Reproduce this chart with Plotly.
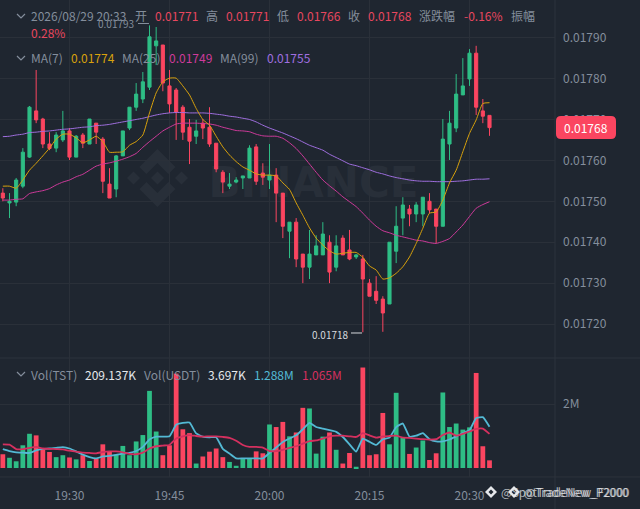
import numpy as np
import pandas as pd
import plotly.graph_objects as go

SCALE = 1e-5
start_time = "2026-08-29 19:20"
opens = [1752.0,1749.6,1749.8,1753.7,1760.8,1772.1,1770.1,1764.0,1763.0,1765.0,
         1767.2,1760.8,1766.2,1764.0,1769.1,1765.2,1754.2,1753.0,1761.1,1767.9,
         1773.0,1775.0,1777.9,1788.0,1788.2,1778.2,1777.2,1773.0,1768.1,1765.9,
         1769.1,1768.1,1764.2,1757.1,1753.7,1754.7,1755.7,1755.7,1763.3,1756.9,
         1755.2,1756.4,1752.0,1742.7,1744.9,1737.1,1733.9,1736.9,1736.9,1740.0,
         1733.9,1741.0,1738.1,1736.4,1735.9,1730.0,1728.0,1726.1,1724.9,1737.8,
         1745.9,1748.1,1746.9,1746.9,1750.0,1748.1,1743.9,1764.0,1767.9,1776.0,
         1779.9,1786.2,1772.1,1771.0]
highs = [1753.2,1752.0,1755.7,1763.0,1773.3,1782.1,1770.4,1766.9,1766.9,1772.1,
         1767.9,1766.2,1766.7,1770.1,1769.1,1765.7,1758.1,1761.3,1767.2,1773.0,
         1778.9,1781.6,1793.0,1792.6,1788.2,1782.1,1777.7,1773.5,1770.1,1769.9,
         1770.1,1773.0,1764.2,1757.6,1756.9,1755.9,1756.2,1763.7,1764.0,1759.3,
         1764.0,1758.1,1752.0,1744.9,1745.9,1737.1,1743.0,1741.7,1744.9,1741.7,
         1741.7,1741.7,1743.0,1737.1,1736.9,1731.0,1731.7,1726.8,1740.0,1748.8,
         1751.0,1749.1,1749.8,1751.0,1752.0,1748.1,1770.1,1772.1,1781.1,1785.0,
         1787.2,1788.0,1775.0,1771.0]
lows = [1750.0,1745.9,1748.8,1753.2,1760.6,1769.1,1763.0,1762.5,1762.0,1764.5,
        1760.1,1760.8,1763.0,1764.0,1764.0,1752.0,1750.8,1751.0,1761.1,1767.4,
        1772.1,1774.0,1777.2,1783.3,1776.9,1771.6,1765.0,1765.0,1759.1,1764.0,
        1765.2,1763.3,1757.1,1752.0,1753.0,1754.4,1753.0,1755.7,1754.0,1754.0,
        1753.0,1744.9,1741.0,1736.1,1733.9,1730.0,1731.0,1736.9,1736.9,1730.0,
        1732.9,1736.9,1735.6,1735.9,1718.0,1726.8,1724.9,1718.1,1724.9,1734.9,
        1741.7,1743.9,1744.9,1743.9,1747.1,1739.8,1743.9,1760.1,1766.9,1776.0,
        1778.2,1771.1,1769.1,1766.0]
closes = [1750.8,1750.0,1755.2,1762.0,1773.0,1769.9,1764.0,1762.9,1766.2,1767.2,
          1760.8,1765.9,1764.2,1770.1,1766.9,1754.9,1750.8,1761.1,1767.2,1773.0,
          1776.2,1779.2,1790.2,1789.2,1778.9,1773.8,1771.8,1766.9,1764.7,1767.2,
          1767.9,1764.0,1757.9,1754.7,1754.2,1755.2,1756.2,1763.0,1754.9,1755.9,
          1756.4,1752.0,1743.9,1744.9,1735.9,1733.9,1737.1,1739.1,1742.0,1732.7,
          1739.1,1736.9,1735.9,1736.9,1731.0,1726.8,1725.8,1722.7,1740.0,1743.9,
          1749.1,1746.9,1749.1,1751.0,1747.9,1743.9,1765.2,1769.1,1776.2,1778.2,
          1786.2,1773.0,1770.8,1768.0]
ma7 = [1753.7,1753.7,1753.2,1755.2,1757.6,1759.3,1761.1,1763.0,1765.2,1766.4,
       1766.4,1765.5,1764.3,1765.0,1765.9,1764.6,1762.0,1762.0,1762.1,1763.7,
       1764.6,1766.2,1771.6,1776.5,1779.2,1780.1,1780.1,1778.2,1776.0,1772.7,
       1770.0,1768.6,1765.9,1763.3,1761.3,1759.7,1758.4,1757.6,1756.7,1756.4,
       1756.4,1756.2,1754.5,1752.9,1749.6,1746.6,1743.5,1741.0,1739.3,1737.9,
       1737.1,1737.3,1737.5,1737.5,1736.3,1734.2,1733.2,1731.0,1731.3,1732.4,
       1734.0,1736.4,1739.7,1743.4,1747.1,1747.4,1750.3,1754.5,1757.6,1762.1,
       1766.6,1769.9,1773.9,1774.1]
ma25 = [1750.3,1750.3,1750.5,1750.6,1751.9,1752.3,1752.6,1753.1,1754.0,1754.7,
        1755.2,1756.0,1756.6,1757.6,1758.6,1759.1,1759.4,1759.8,1760.3,1760.9,
        1761.7,1763.2,1764.6,1765.9,1767.2,1768.1,1768.9,1769.1,1769.1,1769.1,
        1769.0,1768.9,1768.6,1768.1,1767.7,1767.3,1767.2,1767.0,1766.4,1766.0,
        1765.9,1765.9,1765.4,1764.3,1762.9,1761.1,1759.1,1757.1,1755.2,1753.8,
        1752.5,1751.1,1749.9,1748.7,1747.1,1745.4,1743.9,1742.8,1742.3,1741.7,
        1741.3,1740.9,1740.5,1740.3,1739.9,1739.7,1740.2,1740.9,1742.5,1744.2,
        1746.3,1748.3,1749.2,1749.9]
ma99 = [1765.8,1765.9,1766.2,1766.4,1766.8,1766.9,1767.1,1767.2,1767.4,1767.6,
        1767.7,1767.9,1768.1,1768.2,1768.5,1768.6,1768.8,1769.1,1769.4,1769.7,
        1770.0,1770.3,1770.7,1771.1,1771.4,1771.6,1771.7,1771.7,1771.6,1771.6,
        1771.6,1771.5,1771.3,1771.1,1770.8,1770.6,1770.3,1770.0,1769.4,1768.6,
        1767.9,1767.3,1766.7,1766.0,1765.3,1764.5,1763.7,1763.1,1762.5,1761.5,
        1760.7,1759.9,1759.1,1758.7,1758.2,1757.7,1757.1,1756.7,1756.2,1755.8,
        1755.5,1755.2,1755.0,1754.9,1754.9,1754.8,1754.8,1754.8,1754.9,1755.0,
        1755.2,1755.4,1755.4,1755.5]
volumes = [.43,.32,.21,.71,1.07,1.02,.60,.50,.34,.40,
           .33,.27,.40,.22,.29,.74,.53,.42,.69,.40,
           .83,1.03,2.41,1.14,.40,.71,2.95,1.21,1.09,.14,
           .36,.51,.61,.34,.19,.07,.29,.29,.52,.46,
           1.36,1.28,1.44,.99,1.11,1.88,1.86,.45,.98,1.11,
           .57,.14,.47,.04,3.14,.40,.43,1.72,.74,2.35,
           .95,.44,.64,.86,.25,.46,2.36,1.28,1.39,1.20,
           1.27,2.97,.68,.24]
vol_ma_blue = [.59,.53,.49,.48,.47,.55,.60,.61,.63,.65,
               .61,.52,.42,.34,.30,.36,.38,.41,.45,.47,
               .53,.66,.89,.98,.98,.99,1.35,1.41,1.42,1.08,
               .98,.96,.96,.60,.45,.30,.30,.30,.30,.30,
               .47,.64,.81,.92,1.02,1.21,1.41,1.28,1.23,1.18,
               1.13,.97,.74,.51,.92,.82,.72,.90,.95,1.28,
               1.39,.98,1.01,1.09,.90,.83,.83,.89,.99,1.09,
               1.18,1.56,1.59,1.29]
vol_ma_red = [.74,.73,.59,.59,.63,.66,.61,.60,.59,.58,
              .54,.51,.48,.47,.46,.50,.52,.52,.49,.44,
              .43,.48,.61,.68,.70,.72,.92,.99,1.03,1.00,
              .98,.99,.99,.97,.94,.85,.72,.66,.66,.64,
              .53,.53,.57,.63,.68,.76,.84,.86,.92,.99,
              1.01,1.01,.99,.97,1.09,1.02,.95,.99,1.00,1.01,
              .95,.94,.92,.90,.89,.90,1.03,1.11,1.01,1.07,
              1.14,1.22,1.23,1.065]
price_ticks = [0.0172,0.0173,0.0174,0.0175,0.0176,0.0177,0.0178,0.0179]
price_tick_labels = ["0.01720","0.01730","0.01740","0.01750","0.01760","0.01770","0.01780","0.01790"]
vol_ticks = [2]
vol_tick_labels = ["2M"]
time_ticks = ["2026-08-29 19:30","2026-08-29 19:45","2026-08-29 20:00","2026-08-29 20:15","2026-08-29 20:30"]
time_tick_labels = ["19:30","19:45","20:00","20:15","20:30"]

W, H = 640, 509
BG = "#1f2630"; GRID = "#2a3039"; SEP = "#2d333c"; GRAY = "#848e9c"
GREEN = "#2ebd85"; RED = "#fb4560"
FONT = "Noto Sans CJK SC"

times = pd.date_range(start_time, periods=len(opens), freq="min")
o, h, l, c = [np.array(a) * SCALE for a in (opens, highs, lows, closes)]
is_up = c >= o
bar_colors = [GREEN if u else RED for u in is_up]

def fx(x): return x / W
def fy(y): return 1 - y / H
def path(points, close=True):
    s = "M" + " L".join(f"{fx(x):.5f},{fy(y):.5f}" for x, y in points)
    return s + (" Z" if close else "")

fig = go.Figure()
fig.add_trace(go.Candlestick(x=times, open=o, high=h, low=l, close=c, xaxis="x", yaxis="y",
    increasing=dict(line=dict(color=GREEN, width=1), fillcolor=GREEN),
    decreasing=dict(line=dict(color=RED, width=1), fillcolor=RED),
    whiskerwidth=0, showlegend=False, hoverinfo="skip"))
for series, colr in ((ma99, "#a06fe0"), (ma25, "#cf3a9b"), (ma7, "#d9a20c")):
    fig.add_trace(go.Scatter(x=times, y=np.array(series) * SCALE, mode="lines", xaxis="x", yaxis="y",
        line=dict(color=colr, width=1, shape="spline", smoothing=0.5), hoverinfo="skip", showlegend=False))
fig.add_trace(go.Bar(x=times, y=volumes, xaxis="x2", yaxis="y2", marker=dict(color=bar_colors, line_width=0),
    width=43000, hoverinfo="skip", showlegend=False))
for series, colr in ((vol_ma_blue, "#53b9d4"), (vol_ma_red, "#d5305f")):
    fig.add_trace(go.Scatter(x=times, y=series, mode="lines", xaxis="x2", yaxis="y2",
        line=dict(color=colr, width=1.8, shape="spline", smoothing=0.4), hoverinfo="skip", showlegend=False))

shapes = []
def add_poly(points, fill):
    shapes.append(dict(type="path", xref="paper", yref="paper", path=path(points), fillcolor=fill,
                       line=dict(width=0), layer="below"))
def add_line(points, colr, width=1, layer="above"):
    shapes.append(dict(type="path", xref="paper", yref="paper", path=path(points, close=False),
                       line=dict(color=colr, width=width), layer=layer))

# Faint logo and word behind the candles
LOGO = "#282f39"
cx, cy = 157.5, 178
def diamond(x, y, r): return [(x, y - r), (x + r, y), (x, y + r), (x - r, y)]
for dx in (-24, 0, 24):
    add_poly(diamond(cx + dx, cy, 6.5), LOGO)
add_poly([(cx,cy-29),(cx+18,cy-11),(cx+11,cy-4),(cx,cy-15),(cx-11,cy-4),(cx-18,cy-11)], LOGO)
add_poly([(cx,cy+29),(cx+18,cy+11),(cx+11,cy+4),(cx,cy+15),(cx-11,cy+4),(cx-18,cy+11)], LOGO)
shapes.append(dict(type="rect", xref="paper", yref="paper", x0=fx(190), x1=fx(437), y0=fy(201), y1=fy(157),
    line=dict(width=0), fillcolor="rgba(0,0,0,0)", layer="below",
    label=dict(text="<b>BINANCE</b>", textposition="middle center",
               font=dict(family="DejaVu Sans", size=42, color=LOGO))))

# Pane separators and right-axis rule
add_line([(0, 358), (640, 358)], SEP, 1, "below")
add_line([(0, 477), (640, 477)], SEP, 1, "below")
add_line([(555, 0), (555, 509)], SEP, 1, "below")

# Collapse chevrons
for yc in (16, 58, 374):
    add_line([(17, yc - 2), (21, yc + 2), (25, yc - 2)], GRAY, 1.2)

# Extreme markers
add_line([(138, 23.5), (149, 23.5)], GRAY, 1)
add_line([(351, 333), (362, 333)], "#d5d8dd", 1)

# Last-price badge
bx0, bx1, by0, by1, r = 556, 616, 116, 139, 5
fig_path = (f"M{fx(bx0+r):.5f},{fy(by0):.5f} L{fx(bx1-r):.5f},{fy(by0):.5f} "
            f"Q{fx(bx1):.5f},{fy(by0):.5f} {fx(bx1):.5f},{fy(by0+r):.5f} L{fx(bx1):.5f},{fy(by1-r):.5f} "
            f"Q{fx(bx1):.5f},{fy(by1):.5f} {fx(bx1-r):.5f},{fy(by1):.5f} L{fx(bx0+r):.5f},{fy(by1):.5f} "
            f"Q{fx(bx0):.5f},{fy(by1):.5f} {fx(bx0):.5f},{fy(by1-r):.5f} L{fx(bx0):.5f},{fy(by0+r):.5f} "
            f"Q{fx(bx0):.5f},{fy(by0):.5f} {fx(bx0+r):.5f},{fy(by0):.5f} Z")
shapes.append(dict(type="path", xref="paper", yref="paper", path=fig_path, fillcolor=RED, line=dict(width=0), layer="above"))

# Small corner logos
for x0 in (491, 514):
    add_poly(diamond(x0, 492, 6), "#e6e8eb")
    add_poly(diamond(x0, 492, 2.5), BG)

anns = []
def txt(text, x, y, colr=GRAY, size=12, anchor="left"):
    anns.append(dict(text=text, x=fx(x - 1 if anchor == "left" else x), y=fy(y), xref="paper", yref="paper",
                     showarrow=False, xanchor=anchor, yanchor="middle",
                     font=dict(family=FONT, size=size, color=colr), borderpad=0))

hdr = "#e8475f"
for t, x, col in (("2026/08/29 20:33", 31, GRAY), ("开", 135, GRAY), ("0.01771", 155, hdr), ("高", 206, GRAY),
                  ("0.01771", 226, hdr), ("低", 277, GRAY), ("0.01766", 297, hdr), ("收", 348, GRAY),
                  ("0.01768", 368, hdr), ("涨跌幅", 419, GRAY), ("-0.16%", 464, hdr), ("振幅", 511, GRAY)):
    txt(t, x, 16, col)
txt("0.28%", 31, 32, hdr)
for t, x, col in (("MA(7)", 31, GRAY), ("0.01774", 71, "#d9a20c"), ("MA(25)", 122, GRAY), ("0.01749", 169, "#cf3a9b"),
                  ("MA(99)", 220, GRAY), ("0.01755", 267, "#a06fe0")):
    txt(t, x, 58, col)
for t, x, col in (("Vol(TST)", 31, GRAY), ("209.137K", 85, "#e6e8eb"), ("Vol(USDT)", 144, GRAY), ("3.697K", 208, "#e6e8eb"),
                  ("1.288M", 254, "#53b9d4"), ("1.065M", 302, "#d5305f")):
    txt(t, x, 374, col)
txt("0.01793", 98, 24, GRAY, 10)
txt("0.01718", 312, 334, "#d5d8dd", 10)
txt("0.01768", 586, 127.5, "#ffffff", 12, "center")
txt("@SpotTradeNew_F2000", 501, 492, "rgba(230,232,235,0.75)", 11.5)
txt("@TradeNew_P2000", 524, 492, "rgba(230,232,235,0.75)", 11.5)

x_start = pd.Timestamp("2026-08-29 19:30") - pd.Timedelta(minutes=69.5 / (100 / 15))
x_end = pd.Timestamp("2026-08-29 19:30") + pd.Timedelta(minutes=(555 - 69.5) / (100 / 15))
x_range = [x_start, x_end]
common_x = dict(type="date", range=x_range, domain=[0, 555 / W], showgrid=True, gridcolor=GRID, gridwidth=1,
                tickmode="array", tickvals=time_ticks, ticktext=time_tick_labels, zeroline=False, showline=False,
                rangeslider=dict(visible=False))

fig.update_layout(
    width=W, height=H, margin=dict(l=0, r=0, t=0, b=0), paper_bgcolor=BG, plot_bgcolor=BG,
    showlegend=False, hovermode=False, boxgap=0.33, dragmode=False, font=dict(family=FONT, size=12, color=GRAY),
    xaxis=dict(**common_x, anchor="y", showticklabels=False, ticks=""),
    xaxis2=dict(**common_x, anchor="y2", matches="x", showticklabels=True, ticks="outside", ticklen=8,
                tickcolor="rgba(0,0,0,0)", tickfont=dict(family=FONT, size=12, color=GRAY)),
    yaxis=dict(domain=[1 - 358 / H, 1], range=[0.017117, 0.017992], side="right", anchor="x",
               tickmode="array", tickvals=price_ticks, ticktext=price_tick_labels, showgrid=True, gridcolor=GRID,
               zeroline=False, showline=False, ticks="", ticklabelstandoff=7,
               tickfont=dict(family=FONT, size=12, color=GRAY)),
    yaxis2=dict(domain=[1 - 477 / H, 1 - 358 / H], range=[-0.281, 3.4375], side="right", anchor="x2",
                tickmode="array", tickvals=vol_ticks, ticktext=vol_tick_labels, showgrid=True, gridcolor=GRID,
                zeroline=False, showline=False, ticks="", ticklabelstandoff=7,
                tickfont=dict(family=FONT, size=12, color=GRAY)),
    shapes=shapes, annotations=anns,
)

fig.write_html("out.html", config=dict(displayModeBar=False),
               post_script="document.body.style.margin='0';document.body.style.background='%s';" % BG)
